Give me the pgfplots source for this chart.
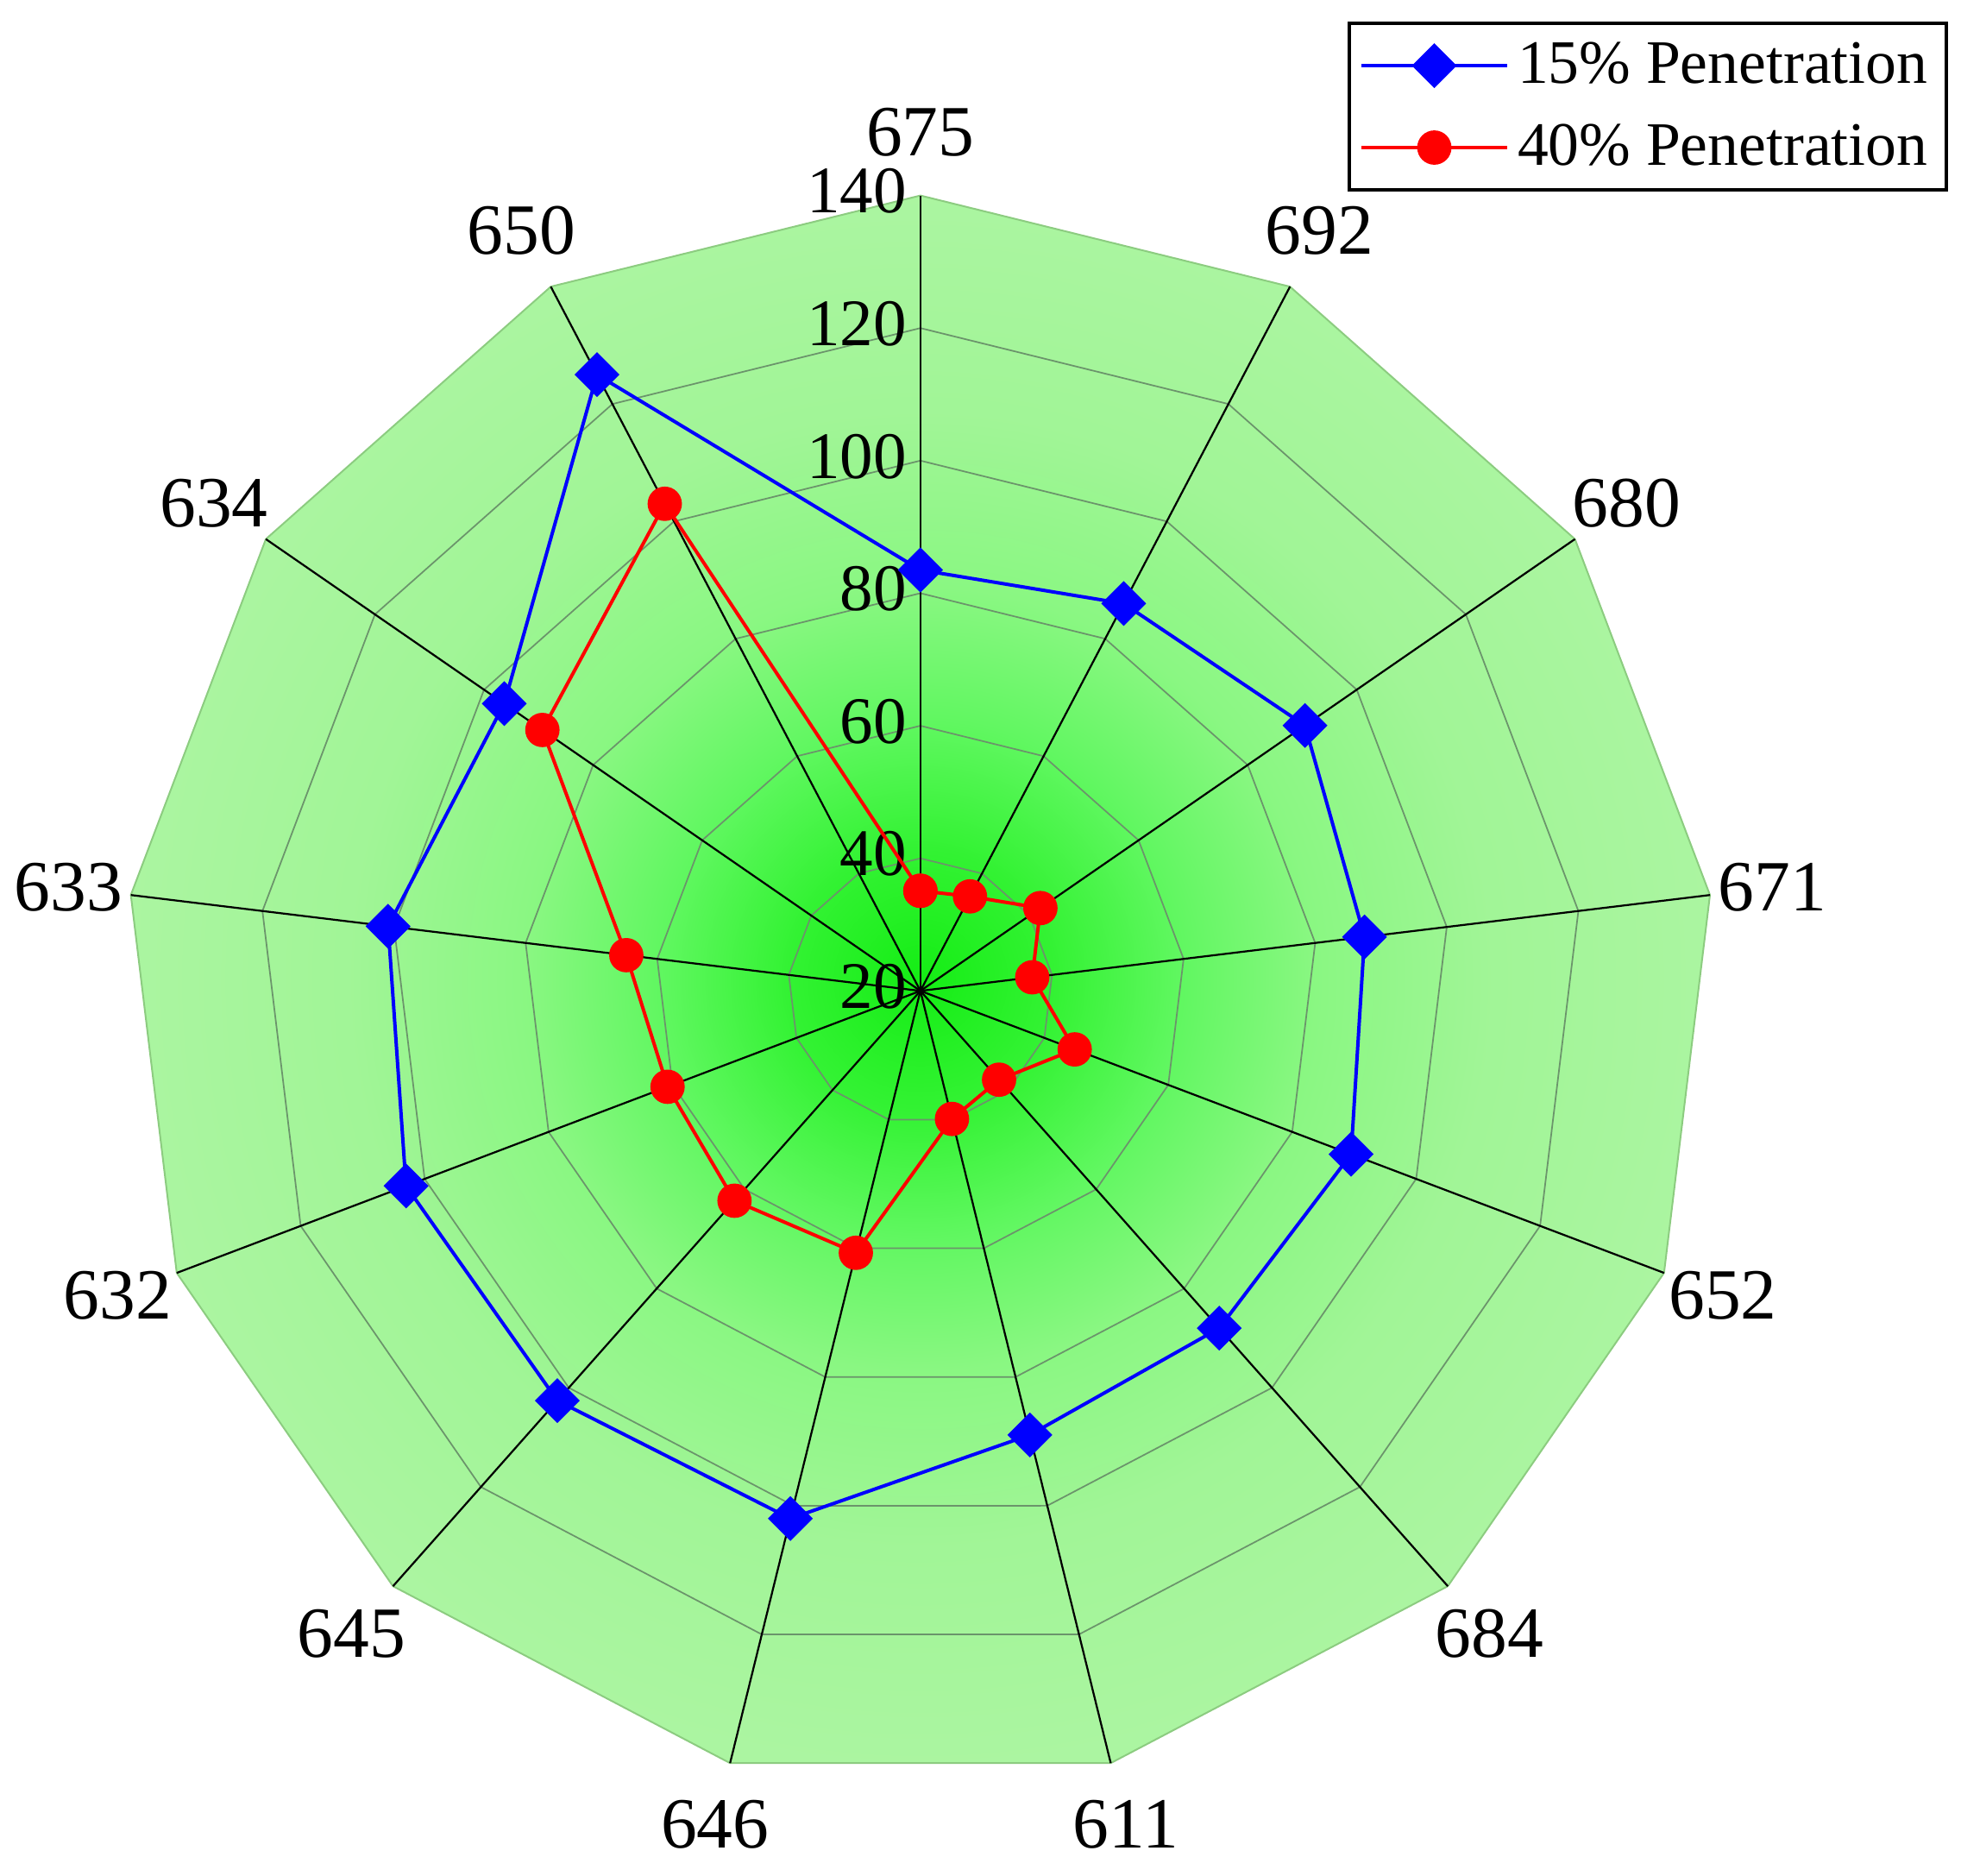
\documentclass[border=0pt]{standalone}
\usepackage{pgfplots}
\pgfplotsset{compat=1.18}
\usepackage{pgfplotstable}
\usepackage{fontspec}
\setmainfont{Liberation Serif}
\pgfdeclareradialshading{greenrad}{\pgfpoint{0bp}{0bp}}{rgb(0bp)=(0.08,0.93,0.08); rgb(4.2bp)=(0.20,0.95,0.20); rgb(8.3bp)=(0.38,0.97,0.38); rgb(12.5bp)=(0.54,0.97,0.51); rgb(18bp)=(0.63,0.96,0.59); rgb(25bp)=(0.67,0.96,0.63); rgb(50bp)=(0.67,0.96,0.63)}
\definecolor{ringc}{rgb}{0.42,0.58,0.42}
\definecolor{edgec}{rgb}{0.55,0.80,0.50}

\pgfplotstableread{
i lab blue red
0 675 83.5 35.1
1 692 86.0 36.1
2 680 90.5 42.0
3 671 87.5 37.0
4 652 89.5 44.9
5 684 88.0 37.9
6 611 89.0 39.9
7 646 102.0 60.7
8 645 102.6 62.3
9 632 103.0 60.8
10 633 100.9 64.7
11 634 96.3 89.3
12 650 125.0 103.0
13 675 83.5 35.1
}\radardata

\def\P#1#2{(axis cs:{#2*sin(#1*360/13)},{#2*cos(#1*360/13)})}

\begin{document}
\begin{tikzpicture}
\begin{axis}[
  scale only axis, width=454.6pt, height=437.2pt,
  xmin=-137.2, xmax=157.0, ymin=-133.5, ymax=149.5,
  hide axis, clip=false,
  legend style={at={(0.9934,0.9886)}, anchor=north east, draw=black, line width=0.8pt,
    font=\fontsize{14.4}{17}\selectfont, legend cell align=left, inner sep=2.4pt, row sep=4pt},
  legend image code/.code={\draw[mark repeat=2,mark phase=2] plot coordinates {(0pt,0pt)(17pt,0pt)(34pt,0pt)};},
]
\path (rel axis cs:0,0) (rel axis cs:1,1);
% background
\shade[shading=greenrad] \P{0}{120} -- \P{1}{120} -- \P{2}{120} -- \P{3}{120} -- \P{4}{120} -- \P{5}{120} -- \P{6}{120} -- \P{7}{120} -- \P{8}{120} -- \P{9}{120} -- \P{10}{120} -- \P{11}{120} -- \P{12}{120} -- cycle;
\addplot[forget plot, ringc, line width=0.35pt, mark=none] table[x expr={20*sin(\thisrow{i}*360/13)}, y expr={20*cos(\thisrow{i}*360/13)}] {\radardata};
\addplot[forget plot, ringc, line width=0.35pt, mark=none] table[x expr={40*sin(\thisrow{i}*360/13)}, y expr={40*cos(\thisrow{i}*360/13)}] {\radardata};
\addplot[forget plot, ringc, line width=0.35pt, mark=none] table[x expr={60*sin(\thisrow{i}*360/13)}, y expr={60*cos(\thisrow{i}*360/13)}] {\radardata};
\addplot[forget plot, ringc, line width=0.35pt, mark=none] table[x expr={80*sin(\thisrow{i}*360/13)}, y expr={80*cos(\thisrow{i}*360/13)}] {\radardata};
\addplot[forget plot, ringc, line width=0.35pt, mark=none] table[x expr={100*sin(\thisrow{i}*360/13)}, y expr={100*cos(\thisrow{i}*360/13)}] {\radardata};
\addplot[forget plot, edgec, line width=0.4pt, mark=none] table[x expr={120*sin(\thisrow{i}*360/13)}, y expr={120*cos(\thisrow{i}*360/13)}] {\radardata};
\pgfplotsinvokeforeach{0,...,12}{
  \draw[black, line width=0.45pt] (axis cs:0,0) -- \P{#1}{120};
}
% radial tick labels
\pgfplotsinvokeforeach{20,40,60,80,100,120,140}{
  \node[anchor=east, inner sep=0pt, xshift=-3pt, yshift=1pt, font=\fontsize{15.5}{18}\selectfont] at (axis cs:0,{#1-20}) {#1};
}
% series
\addplot[blue, line width=0.8pt, mark=square*, mark size=3.3pt, mark options={rotate=45, solid}] table[x expr={(\thisrow{blue}-20)*sin(\thisrow{i}*360/13)}, y expr={(\thisrow{blue}-20)*cos(\thisrow{i}*360/13)}] {\radardata};
\addlegendentry{15\% Penetration}
\addplot[red, line width=0.8pt, mark=*, mark size=3.6pt] table[x expr={(\thisrow{red}-20)*sin(\thisrow{i}*360/13)}, y expr={(\thisrow{red}-20)*cos(\thisrow{i}*360/13)}] {\radardata};
\addlegendentry{40\% Penetration}
% category labels
\addplot[forget plot, only marks, mark=none, skip coords between index={13}{14},
  nodes near coords, point meta=explicit symbolic,
  every node near coord/.append style={anchor=center, black, font=\fontsize{16.8}{20}\selectfont}]
  table[meta=lab, x expr={129.5*sin(\thisrow{i}*360/13)}, y expr={129.5*cos(\thisrow{i}*360/13)}] {\radardata};
\end{axis}
\end{tikzpicture}
\end{document}
